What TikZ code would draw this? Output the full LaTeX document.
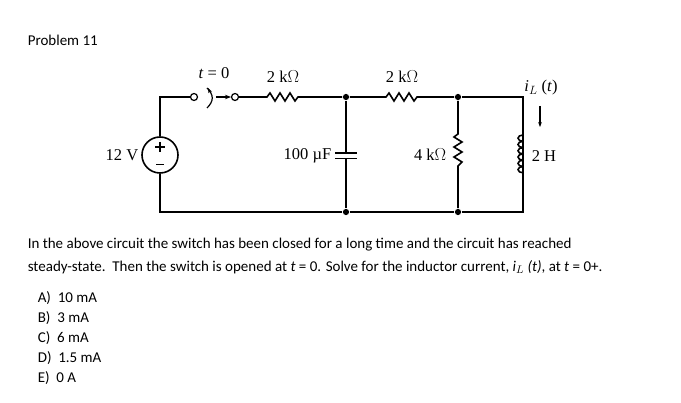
\documentclass[tikz,border=0pt]{standalone}
\usepackage{fontspec}
\setmainfont{Carlito}
\newfontfamily\ckt{Liberation Serif}
\usetikzlibrary{arrows.meta}
\begin{document}
\begin{tikzpicture}[x=1pt,y=-1pt,line width=1.6pt,
  lbl/.style={font=\ckt\fontsize{16.5}{19}\selectfont,inner sep=1pt},
  txt/.style={font=\fontsize{15}{18}\selectfont,anchor=west,inner sep=0pt},
  dot/.style={circle,fill,inner sep=2.2pt}]
\useasboundingbox (0,0) rectangle (681,403);
\node[txt] (title) at (27,40) {Problem 11};
% nodes
\coordinate (tl) at (160,97);
\coordinate (bl) at (160,212);
\node[dot] (n1) at (346,97) {};
\node[dot] (n2) at (458,97) {};
\node[dot] (b1) at (346,212) {};
\node[dot] (b2) at (458,212) {};
\coordinate (tr) at (523,97);
\coordinate (br) at (523,212);
% source
\node[circle,draw,minimum size=36pt,inner sep=0pt] (src) at (160,155) {};
\draw[line width=1.3pt] (155,147) -- (165,147) (160,142) -- (160,152);
\draw[line width=1.3pt] (156,164.5) -- (164,164.5);
\node[lbl,anchor=east] (v) at (140,155) {12 V};
\draw (src.north) -- (tl) -- (190.5,97);
\draw (src.south) -- (bl) -- (b1) -- (b2) -- (br) -- (tr) -- (n2);
% switch
\node[circle,draw,line width=1.2pt,inner sep=0pt,minimum size=7pt] (s1) at (194,97) {};
\node[circle,draw,line width=1.2pt,inner sep=0pt,minimum size=7pt] (s2) at (235,97) {};
\draw[line width=1.2pt] (207,88) .. controls (214,95) and (214,101) .. (207,108);
\draw[-{Stealth[length=5pt]},line width=1.2pt] (210,92) -- (208,88);
\draw[-{Stealth[length=6pt]},line width=1.2pt] (216,97) -- (231,97);
\node[lbl] (t0) at (214,73) {\textit{t} = 0};
% resistor 1
\draw (s2) -- (267,97) -- (270,93) -- (275,101) -- (280,93) -- (285,101) -- (290,93) -- (295,101) -- (298,97) -- (n1);
\node[lbl] (r1) at (283,77) {2 k$\Omega$};
% resistor 2
\draw (n1) -- (386,97) -- (389,93) -- (394,101) -- (399,93) -- (404,101) -- (409,93) -- (414,101) -- (417,97) -- (n2);
\node[lbl] (r2) at (402,77) {2 k$\Omega$};
% capacitor
\draw (n1) -- (346,153) (335,153) -- (357,153) (335,158.5) -- (357,158.5) (346,158.5) -- (b1);
\node[lbl,anchor=east] (c) at (333,156) {100 \textmu F};
% 4k
\draw (n2) -- (458,134) -- (454,137) -- (462,142) -- (454,147) -- (462,152) -- (454,157) -- (462,162) -- (458,166) -- (b2);
\node[lbl,anchor=east] (r3) at (448,155) {4 k$\Omega$};
% inductor
\draw (tr) -- (523,135);
\foreach \i in {0,...,5} \draw (523,135+\i*6.3) arc[start angle=-90,end angle=-270,x radius=5pt,y radius=-3.15pt];
\draw (523,172.8) -- (br);
\node[lbl,anchor=west] (l) at (530,156) {2 H};
\node[lbl] (il) at (541,88) {\textit{i}$_L$ (\textit{t})};
\draw[-{Stealth[length=5pt]},line width=1.2pt] (540,106) -- (540,127);
% text
\node[txt] (p1) at (27,245) {In the above circuit the switch has been closed for a long time and the circuit has reached};
\node[txt] (p2) at (27,267) {steady-state.\ \ Then the switch is opened at \textit{t} = 0. Solve for the inductor current, \textit{i}$_L$ \textit{(t)}, at \textit{t} = 0+.};
\node[txt] (a) at (37,298) {A)\ \ 10 mA};
\node[txt] (b) at (37,318) {B)\ \ 3 mA};
\node[txt] (cc) at (37,338) {C)\ \ 6 mA};
\node[txt] (d) at (37,358) {D)\ \ 1.5 mA};
\node[txt] (e) at (37,378) {E)\ \ 0 A};
\end{tikzpicture}
\end{document}
